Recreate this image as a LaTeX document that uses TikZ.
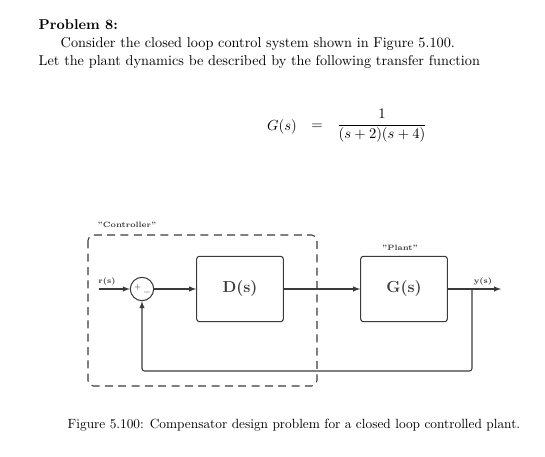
\documentclass[tikz,border=0pt]{standalone}
\usepackage{amsmath}
\definecolor{linegray}{HTML}{3A3A3A}
\begin{document}
\begin{tikzpicture}
[x=0.75pt,y=-0.75pt,
  textdecorate/.style={font=\fontsize{10.7}{13}\selectfont},
  blockdecorate/.style={shape=rectangle,draw=linegray,thick,rounded corners=2pt,
    minimum width=65pt,minimum height=49pt,font=\large\bfseries,text=linegray},
  sumdecorate/.style={shape=circle,draw=linegray,thick,minimum size=17.5pt,inner sep=0pt},
  arrowdecorate/.style={->,>=latex,thick,draw=linegray},
  tagdecorate/.style={font=\fontsize{5.8}{6}\selectfont\bfseries,text=linegray,inner sep=0pt},
  signdecorate/.style={font=\fontsize{6}{6}\selectfont,text=linegray,inner sep=0pt}]
\useasboundingbox (0,0) rectangle (545,456);
%% text above the figure
\node[textdecorate,anchor=base west] (title) at (34,30) {\bfseries Problem 8:};
\node[textdecorate,anchor=base west] (line1) at (56,48) {Consider the closed loop control system shown in Figure 5.100.};
\node[textdecorate,anchor=base west] (line2) at (34,66) {Let the plant dynamics be described by the following transfer function};
\node[textdecorate] (lhs) at (282,127) {$G(s)$};
\node[textdecorate] (eq) at (317,127) {$=$};
\node[textdecorate] (rhs) at (382,126) {$\dfrac{1}{(s+2)(s+4)}$};
%% blocks
\node (sum) at (142,289) [sumdecorate] {};
\node (D) at (240,289) [blockdecorate] {D(s)};
\node (G) at (404,289) [blockdecorate] {G(s)};
\node[signdecorate] (plus) at (137.5,287) {+};
\node[signdecorate] (minus) at (147,292) {$-$};
%% controller frame
\draw[linegray,thick,dashed,dash pattern=on 6pt off 4pt,rounded corners=4pt]
  (88,235) rectangle (317,386);
%% labels
\foreach \tagname/\x/\y/\tagtext in {ctrltag/127/225/"Controller",
  planttag/400/248/"Plant", rtag/107/282/r(s), ytag/483/282/y(s)} {
  \node[tagdecorate] (\tagname) at (\x,\y) {\tagtext};
}
%% free ends
\coordinate (rin) at (99,289);
\coordinate (yout) at (501,289);
\coordinate (branch) at (472,289);
\coordinate (fbcorner) at (142,371);
%% signal lines
\path
\foreach \startnode/\endnode in {rin/sum, sum/D, D/G, G/yout} {
  (\startnode) edge[arrowdecorate] (\endnode)
};
\draw[arrowdecorate,rounded corners=2pt] (branch) |- (fbcorner) -- (sum);
%% caption
\node[anchor=base west] (caption) at (63,428) {Figure 5.100: Compensator design problem for a closed loop controlled plant.};
\end{tikzpicture}
\end{document}
